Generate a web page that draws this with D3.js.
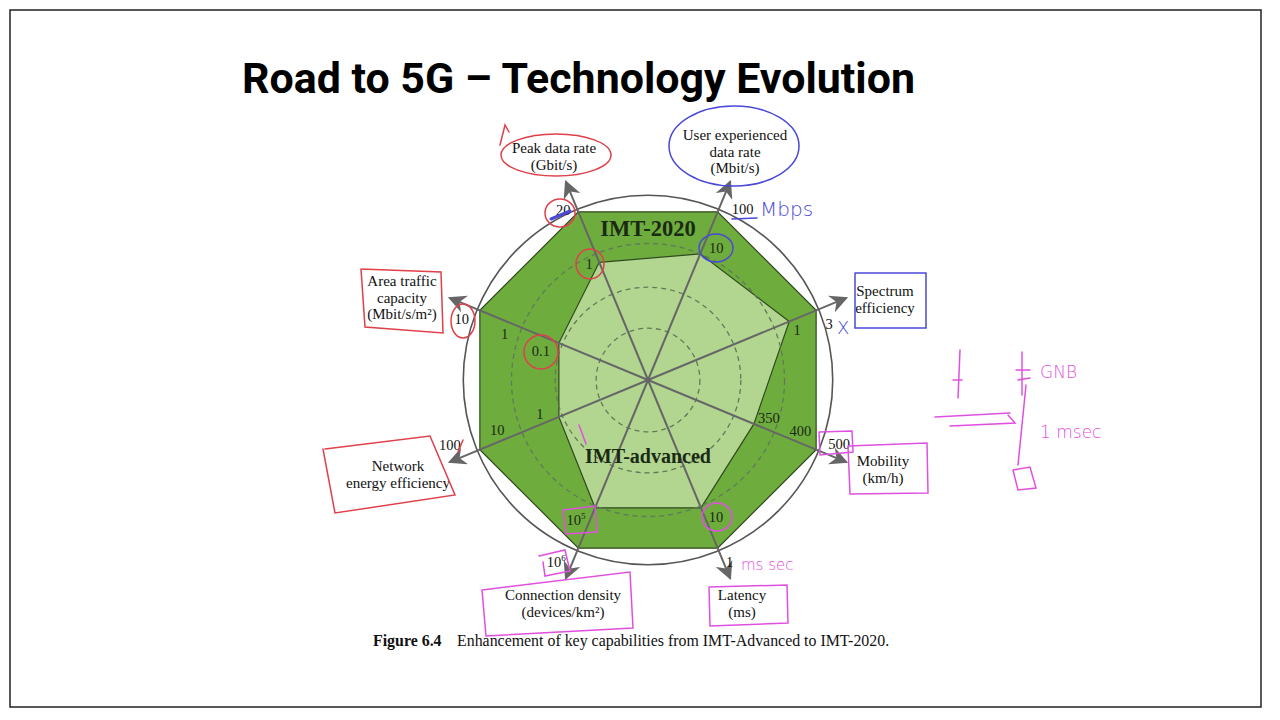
<!DOCTYPE html>
<html><head><meta charset="utf-8">
<script src="https://cdn.jsdelivr.net/npm/d3@7"></script>
<style>body{margin:0;background:#fff}svg{display:block}</style>
</head><body>
<svg id="c" width="1280" height="720"></svg>
<script>
// ---------- data ----------
const axes = ["Peak data rate","User experienced data rate","Spectrum efficiency","Mobility","Latency","Connection density","Network energy efficiency","Area traffic capacity"];
const axisLabelLines = [["Peak data rate","(Gbit/s)"],["User experienced","data rate","(Mbit/s)"],["Spectrum","efficiency"],["Mobility","(km/h)"],["Latency","(ms)"],["Connection density","(devices/km²)"],["Network","energy efficiency"],["Area traffic","capacity","(Mbit/s/m²)"]];
const imt2020Values = ["20","100","3","500","1","10^6","100","10"];
const imtAdvancedValues = ["1","10","1","350","10","10^5","1","0.1"];
// relative radial level of each capability (outer octagon = 1)
const imt2020Level = [1,1,1,1,1,1,1,1];
const imtAdvancedLevel = [0.70,0.75,0.84,0.63,0.76,0.76,0.53,0.53];
const gridLevels = [0.285,0.51,0.75];
// intermediate tick labels: [axis index, label, level]
const extraTicks = [[3,"400",0.87],[6,"10",0.76],[7,"1",0.77]];

// ---------- layout ----------
const svg = d3.select("#c");
const cx = 648, cy = 380, R = 182;
const r = d3.scaleLinear().domain([0,1]).range([0,R]);
const ang = d3.scaleLinear().domain([0,8]).range([-Math.PI/8, 2*Math.PI - Math.PI/8]);
const pt = (i, lv) => [cx + r(lv)*Math.sin(ang(i)), cy - r(lv)*Math.cos(ang(i))];
const serif = "'Liberation Serif','DejaVu Serif',serif";

// frame
svg.append("rect").attr("x",10).attr("y",10).attr("width",1251).attr("height",697)
  .attr("fill","none").attr("stroke","#222").attr("stroke-width",1.5);

// title
svg.append("text").attr("x",242).attr("y",93).attr("font-family","Roboto, 'Liberation Sans', sans-serif")
  .attr("font-weight","bold").attr("font-size",42).attr("textLength",673).attr("lengthAdjust","spacingAndGlyphs")
  .attr("fill","#000").text("Road to 5G – Technology Evolution");

// outer circle
svg.append("circle").attr("cx",cx).attr("cy",cy).attr("r",r(1.015)).attr("fill","none")
  .attr("stroke","#555").attr("stroke-width",1.6);

const line = d3.line().curve(d3.curveLinearClosed);
// IMT-2020 polygon
svg.append("path").attr("d", line(imt2020Level.map((v,i)=>pt(i,v))))
  .attr("fill","#6eac3e").attr("stroke","#2f4a20").attr("stroke-width",1.2);
// IMT-advanced polygon
svg.append("path").attr("d", line(imtAdvancedLevel.map((v,i)=>pt(i,v))))
  .attr("fill","#b2d690").attr("stroke","#2f4a20").attr("stroke-width",1.2);

// dashed grid circles
svg.selectAll("circle.grid").data(gridLevels).join("circle").attr("class","grid")
  .attr("cx",cx).attr("cy",cy).attr("r",d=>r(d)).attr("fill","none")
  .attr("stroke","#5f7a5a").attr("stroke-width",1.3).attr("stroke-dasharray","5,4");

// arrow marker
svg.append("defs").append("marker").attr("id","arr").attr("viewBox","0 0 10 10")
  .attr("refX",9).attr("refY",5).attr("markerWidth",18).attr("markerHeight",18)
  .attr("orient","auto").attr("markerUnits","userSpaceOnUse")
  .append("path").attr("d","M0,0 L10,5 L0,10 L3,5 Z").attr("fill","#666");

// axes
svg.selectAll("line.axis").data(axes).join("line").attr("class","axis")
  .attr("x1",cx).attr("y1",cy)
  .attr("x2",(d,i)=>pt(i,1.18)[0]).attr("y2",(d,i)=>pt(i,1.18)[1])
  .attr("stroke","#666").attr("stroke-width",2).attr("marker-end","url(#arr)");

// polygon labels
svg.append("text").attr("x",648).attr("y",236).attr("text-anchor","middle").attr("font-family",serif)
  .attr("font-weight","bold").attr("font-size",22.5).attr("fill","#1b2a14").text("IMT-2020");
svg.append("text").attr("x",648).attr("y",463).attr("text-anchor","middle").attr("font-family",serif)
  .attr("font-weight","bold").attr("font-size",20).attr("fill","#1b2a14").text("IMT-advanced");

// tick labels
const outerOff = [[-15,3],[25,2],[13,19],[23,-1],[12,19],[-22,19],[-30,0],[-18,14]];
const innerOff = [[-10,7],[16,-1],[8,14],[15,-1],[15,14],[-19,17],[-19,2],[-18,13]];
const extraOff = {3:[6,-5],6:[-23,2],7:[-14,13]};
function tickText(sel, s){
  const m = s.match(/^(\d+)\^(\d+)$/);
  if(m){ sel.append("tspan").text(m[1]); sel.append("tspan").attr("dy",-6).attr("font-size",9).text(m[2]); }
  else sel.text(s);
}
const tg = svg.append("g").attr("font-family",serif).attr("font-size",14.5).attr("fill","#111").attr("text-anchor","middle");
imt2020Values.forEach((v,i)=>{ const p=pt(i,imt2020Level[i]); tickText(tg.append("text").attr("x",p[0]+outerOff[i][0]).attr("y",p[1]+outerOff[i][1]), v); });
imtAdvancedValues.forEach((v,i)=>{ const p=pt(i,imtAdvancedLevel[i]); tickText(tg.append("text").attr("x",p[0]+innerOff[i][0]).attr("y",p[1]+innerOff[i][1]).attr("fill","#1b2a14"), v); });
extraTicks.forEach(([i,v,lv])=>{ const p=pt(i,lv); tg.append("text").attr("x",p[0]+extraOff[i][0]).attr("y",p[1]+extraOff[i][1]).attr("fill","#1b2a14").text(v); });

// axis labels
const labelPos = [[554,153],[735,140],[885,296],[883,466],[742,600],[563,600],[398,471],[402,286]];
const lg = svg.append("g").attr("font-family",serif).attr("font-size",15).attr("fill","#111").attr("text-anchor","middle");
axisLabelLines.forEach((lines,i)=>{
  lines.forEach((t,j)=> lg.append("text").attr("x",labelPos[i][0]).attr("y",labelPos[i][1]+j*16.5).text(t));
});

// caption
const cap = svg.append("text").attr("x",373).attr("y",646).attr("font-family",serif).attr("font-size",15.9).attr("fill","#111");
cap.append("tspan").attr("font-weight","bold").text("Figure 6.4");
cap.append("tspan").attr("x",457).text("Enhancement of key capabilities from IMT-Advanced to IMT-2020.");

// ---------- hand-drawn annotations ----------
const RED="#e0404a", BLUE="#4a48d8", MAG="#e050e0";
const ann = svg.append("g").attr("fill","none").attr("stroke-width",1.5).attr("stroke-linecap","round");
const ell=(x,y,rx,ry,c)=>ann.append("ellipse").attr("cx",x).attr("cy",y).attr("rx",rx).attr("ry",ry).attr("stroke",c);
const box=(pts,c)=>ann.append("path").attr("d",d3.line()(pts)).attr("stroke",c);
ell(556,155,55,21,RED); box([[509,132],[505,125],[500,145]],RED);
ell(734,146,65,40,BLUE);
box([[855,273],[926,273],[926,328],[855,328],[855,273]],BLUE);
box([[848,446],[927,443],[928,493],[850,494],[848,446]],MAG);
box([[819,432],[852,431],[853,452],[820,455],[819,432]],MAG);
box([[709,587],[787,585],[788,623],[710,626],[709,587]],MAG);
box([[482,590],[630,572],[633,628],[486,636],[482,590]],MAG);
box([[325,449],[430,436],[455,495],[335,513],[323,449]],RED);
box([[361,269],[441,272],[443,333],[365,327],[361,269]],RED);
ell(560,213,15,14,RED); ell(590,264,14,15,RED); ell(541,352,17,17,RED); ell(463,321,12,17,RED);
ell(716,248,17,14,BLUE);
box([[732,219],[757,218]],BLUE);
box([[551,219],[570,211]],BLUE).attr("stroke-width",3);
ell(717,517,15,14,MAG);
box([[563,510],[595,506],[597,532],[566,534],[563,510]],MAG);
box([[539,556],[565,550],[570,571],[545,576],[543,562]],MAG);
box([[463,440],[458,452]],RED);
box([[579,425],[586,444]],MAG);
box([[1022,352],[1022,395]],MAG); box([[1016,370],[1030,370]],MAG); box([[1018,380],[1030,378]],MAG);
box([[960,350],[958,398]],MAG); box([[953,380],[962,380]],MAG);
box([[935,417],[1010,413]],MAG); box([[950,426],[1015,423],[1008,415]],MAG);
box([[1026,385],[1018,465]],MAG);
box([[1013,470],[1030,467],[1036,488],[1018,490],[1013,470]],MAG);
const hand = svg.append("g").attr("font-family","'DejaVu Sans',sans-serif").attr("font-weight","300");
hand.append("text").attr("x",760).attr("y",216).attr("font-size",20).attr("fill",BLUE).text("Mbps");
hand.append("text").attr("x",837).attr("y",334).attr("font-size",18).attr("fill",BLUE).text("X");
hand.append("text").attr("x",741).attr("y",570).attr("font-size",15).attr("fill",MAG).text("ms sec");
hand.append("text").attr("x",1040).attr("y",378).attr("font-size",17).attr("fill",MAG).text("GNB");
hand.append("text").attr("x",1040).attr("y",438).attr("font-size",17).attr("fill",MAG).text("1 msec");
</script>
</body></html>
